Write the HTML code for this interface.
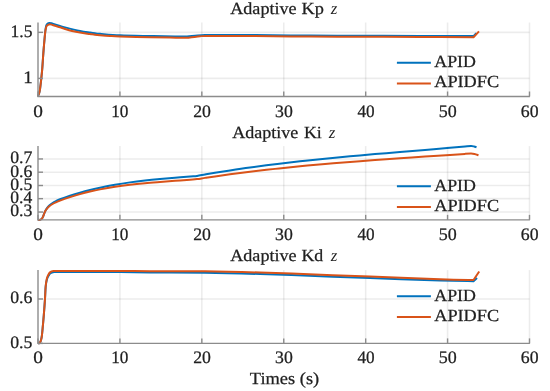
<!DOCTYPE html>
<html><head><meta charset="utf-8"><title>Adaptive gains</title>
<style>html,body{margin:0;padding:0;background:#fff;width:550px;height:391px;overflow:hidden}svg{display:block;text-rendering:geometricPrecision}</style>
</head><body>
<svg width="550" height="391" viewBox="0 0 550 391" font-family="'Liberation Serif', serif">
<rect width="550" height="391" fill="#fff"/>
<g stroke="#000" stroke-opacity="0.074" stroke-width="1.6"><line x1="119.92" y1="22.5" x2="119.92" y2="96.5"/><line x1="201.83" y1="22.5" x2="201.83" y2="96.5"/><line x1="283.75" y1="22.5" x2="283.75" y2="96.5"/><line x1="365.67" y1="22.5" x2="365.67" y2="96.5"/><line x1="447.58" y1="22.5" x2="447.58" y2="96.5"/><line x1="529.50" y1="22.5" x2="529.50" y2="96.5"/><line x1="38.0" y1="32.35" x2="529.5" y2="32.35"/><line x1="38.0" y1="78.4" x2="529.5" y2="78.4"/></g>
<path fill="none" stroke="#0072BD" stroke-width="2" stroke-linejoin="round" d="M37.90,96.30C38.13,95.70 38.93,93.98 39.30,92.70C39.67,91.42 39.77,90.98 40.10,88.60C40.43,86.22 40.93,81.80 41.30,78.40C41.67,75.00 42.02,71.60 42.30,68.20C42.58,64.80 42.77,61.27 43.00,58.00C43.23,54.73 43.43,51.87 43.70,48.60C43.97,45.33 44.35,41.13 44.60,38.40C44.85,35.67 45.02,33.90 45.20,32.20C45.38,30.50 45.50,29.37 45.70,28.20C45.90,27.03 46.07,25.98 46.40,25.20C46.73,24.42 47.22,23.88 47.70,23.50C48.18,23.12 48.67,22.93 49.30,22.90C49.93,22.87 50.55,23.05 51.50,23.30C52.45,23.55 53.58,23.97 55.00,24.40C56.42,24.83 58.33,25.40 60.00,25.90C61.67,26.40 61.67,26.55 65.00,27.40C68.33,28.25 75.83,30.13 80.00,31.00C84.17,31.87 87.50,32.22 90.00,32.60C92.50,32.98 93.33,33.10 95.00,33.30C96.67,33.50 95.83,33.47 100.00,33.80C104.17,34.13 111.67,34.93 120.00,35.30C128.33,35.67 140.83,35.82 150.00,36.00C159.17,36.18 168.83,36.33 175.00,36.40C181.17,36.47 183.67,36.52 187.00,36.40C190.33,36.28 192.00,35.93 195.00,35.70C198.00,35.47 200.83,35.13 205.00,35.00C209.17,34.87 211.67,34.88 220.00,34.90C228.33,34.92 240.00,34.98 255.00,35.10C270.00,35.22 291.67,35.48 310.00,35.60C328.33,35.72 346.67,35.73 365.00,35.80C383.33,35.87 401.92,35.95 420.00,36.00C438.08,36.05 464.58,36.08 473.50,36.10L476.30,33.20"/>
<path fill="none" stroke="#D95319" stroke-width="2" stroke-linejoin="round" d="M37.90,96.30C38.13,95.70 38.93,93.98 39.30,92.70C39.67,91.42 39.77,90.98 40.10,88.60C40.43,86.22 40.93,81.80 41.30,78.40C41.67,75.00 42.02,71.60 42.30,68.20C42.58,64.80 42.77,61.27 43.00,58.00C43.23,54.73 43.43,51.87 43.70,48.60C43.97,45.33 44.35,41.10 44.60,38.40C44.85,35.70 45.01,33.97 45.20,32.40C45.39,30.83 45.53,30.00 45.75,29.00C45.97,28.00 46.17,27.07 46.50,26.40C46.83,25.73 47.23,25.33 47.70,25.00C48.17,24.67 48.67,24.47 49.30,24.40C49.93,24.33 50.55,24.37 51.50,24.60C52.45,24.83 53.58,25.35 55.00,25.80C56.42,26.25 58.33,26.77 60.00,27.30C61.67,27.83 63.00,28.38 65.00,29.00C67.00,29.62 69.50,30.40 72.00,31.00C74.50,31.60 77.00,32.10 80.00,32.60C83.00,33.10 87.50,33.65 90.00,34.00C92.50,34.35 93.33,34.50 95.00,34.70C96.67,34.90 97.50,34.98 100.00,35.20C102.50,35.42 106.67,35.78 110.00,36.00C113.33,36.22 113.33,36.28 120.00,36.50C126.67,36.72 141.67,37.12 150.00,37.30C158.33,37.48 164.17,37.52 170.00,37.60C175.83,37.68 181.67,37.82 185.00,37.80C188.33,37.78 187.50,37.75 190.00,37.50C192.50,37.25 197.17,36.57 200.00,36.30C202.83,36.03 197.83,35.95 207.00,35.90C216.17,35.85 237.83,35.88 255.00,36.00C272.17,36.12 291.67,36.47 310.00,36.60C328.33,36.73 346.67,36.73 365.00,36.80C383.33,36.87 401.92,36.93 420.00,37.00C438.08,37.07 464.58,37.17 473.50,37.20L479.00,31.40"/>
<g stroke="#8c8c8c" stroke-width="1.4"><line x1="38.0" y1="22.5" x2="38.0" y2="96.5"/><line x1="37.4" y1="96.5" x2="529.9" y2="96.5"/><line x1="38.00" y1="96.5" x2="38.00" y2="91.5"/><line x1="119.92" y1="96.5" x2="119.92" y2="91.5"/><line x1="201.83" y1="96.5" x2="201.83" y2="91.5"/><line x1="283.75" y1="96.5" x2="283.75" y2="91.5"/><line x1="365.67" y1="96.5" x2="365.67" y2="91.5"/><line x1="447.58" y1="96.5" x2="447.58" y2="91.5"/><line x1="529.50" y1="96.5" x2="529.50" y2="91.5"/><line x1="38.0" y1="32.35" x2="43.0" y2="32.35"/><line x1="38.0" y1="78.4" x2="43.0" y2="78.4"/></g>
<line x1="396.9" y1="62.7" x2="430.9" y2="62.7" stroke="#0072BD" stroke-width="2"/>
<line x1="396.9" y1="83.45" x2="430.9" y2="83.45" stroke="#D95319" stroke-width="2"/>
<g stroke="#000" stroke-opacity="0.074" stroke-width="1.6"><line x1="119.92" y1="146.1" x2="119.92" y2="219.85"/><line x1="201.83" y1="146.1" x2="201.83" y2="219.85"/><line x1="283.75" y1="146.1" x2="283.75" y2="219.85"/><line x1="365.67" y1="146.1" x2="365.67" y2="219.85"/><line x1="447.58" y1="146.1" x2="447.58" y2="219.85"/><line x1="529.50" y1="146.1" x2="529.50" y2="219.85"/><line x1="38.0" y1="158.95" x2="529.5" y2="158.95"/><line x1="38.0" y1="172.2" x2="529.5" y2="172.2"/><line x1="38.0" y1="185.5" x2="529.5" y2="185.5"/><line x1="38.0" y1="198.65" x2="529.5" y2="198.65"/><line x1="38.0" y1="212.05" x2="529.5" y2="212.05"/></g>
<path fill="none" stroke="#0072BD" stroke-width="2" stroke-linejoin="round" d="M37.90,219.40C38.13,219.48 38.62,220.03 39.30,219.90C39.98,219.77 41.33,219.25 42.00,218.60C42.67,217.95 42.92,216.88 43.30,216.00C43.68,215.12 43.97,214.13 44.30,213.30C44.63,212.47 44.85,211.85 45.30,211.00C45.75,210.15 46.33,209.10 47.00,208.20C47.67,207.30 48.37,206.47 49.30,205.60C50.23,204.73 51.48,203.75 52.60,203.00C53.72,202.25 54.77,201.72 56.00,201.10C57.23,200.48 57.67,200.16 60.00,199.27C62.33,198.38 66.67,196.86 70.00,195.76C73.33,194.66 76.67,193.65 80.00,192.69C83.33,191.73 86.67,190.83 90.00,189.99C93.33,189.15 95.83,188.53 100.00,187.65C104.17,186.77 110.00,185.60 115.00,184.72C120.00,183.84 125.00,183.08 130.00,182.38C135.00,181.68 140.00,181.08 145.00,180.51C150.00,179.94 155.00,179.45 160.00,178.98C165.00,178.51 170.00,178.09 175.00,177.67C180.00,177.25 186.33,176.76 190.00,176.47C193.67,176.18 194.50,176.25 197.00,175.92C199.50,175.59 202.00,175.03 205.00,174.51C208.00,173.99 210.83,173.49 215.00,172.81C219.17,172.13 224.17,171.30 230.00,170.41C235.83,169.52 242.50,168.51 250.00,167.48C257.50,166.45 266.67,165.24 275.00,164.21C283.33,163.18 291.67,162.22 300.00,161.30C308.33,160.38 316.67,159.52 325.00,158.69C333.33,157.86 341.67,157.08 350.00,156.32C358.33,155.56 366.67,154.84 375.00,154.12C383.33,153.40 391.67,152.71 400.00,152.01C408.33,151.31 416.67,150.64 425.00,149.94C433.33,149.24 443.33,148.40 450.00,147.83C456.67,147.26 461.50,146.82 465.00,146.53C468.50,146.24 469.50,146.12 471.00,146.10C472.50,146.08 473.08,146.22 474.00,146.40C474.92,146.58 476.08,147.07 476.50,147.20"/>
<path fill="none" stroke="#D95319" stroke-width="2" stroke-linejoin="round" d="M37.90,219.40C38.13,219.48 38.62,220.03 39.30,219.90C39.98,219.77 41.33,219.25 42.00,218.60C42.67,217.95 42.92,216.88 43.30,216.00C43.68,215.12 43.97,214.13 44.30,213.30C44.63,212.47 44.85,211.78 45.30,211.00C45.75,210.22 46.33,209.38 47.00,208.60C47.67,207.82 48.37,207.07 49.30,206.30C50.23,205.53 51.48,204.67 52.60,204.00C53.72,203.33 54.77,202.86 56.00,202.30C57.23,201.74 57.67,201.51 60.00,200.65C62.33,199.79 66.67,198.23 70.00,197.14C73.33,196.05 76.67,195.05 80.00,194.12C83.33,193.19 86.67,192.34 90.00,191.55C93.33,190.76 95.83,190.18 100.00,189.38C104.17,188.58 110.00,187.54 115.00,186.77C120.00,186.00 125.00,185.36 130.00,184.77C135.00,184.18 140.00,183.69 145.00,183.23C150.00,182.76 155.00,182.38 160.00,181.98C165.00,181.58 170.00,181.24 175.00,180.86C180.00,180.48 186.33,179.99 190.00,179.70C193.67,179.41 194.50,179.41 197.00,179.10C199.50,178.79 202.00,178.32 205.00,177.87C208.00,177.42 210.83,176.99 215.00,176.40C219.17,175.81 224.17,175.09 230.00,174.31C235.83,173.53 242.50,172.66 250.00,171.75C257.50,170.84 266.67,169.78 275.00,168.88C283.33,167.97 291.67,167.13 300.00,166.32C308.33,165.51 316.67,164.75 325.00,164.02C333.33,163.29 341.67,162.61 350.00,161.95C358.33,161.29 366.67,160.66 375.00,160.05C383.33,159.44 391.67,158.85 400.00,158.27C408.33,157.69 416.67,157.12 425.00,156.56C433.33,156.00 443.33,155.34 450.00,154.89C456.67,154.44 461.50,154.09 465.00,153.88C468.50,153.66 469.42,153.60 471.00,153.60C472.58,153.60 473.25,153.63 474.50,153.90C475.75,154.17 477.83,154.98 478.50,155.20"/>
<g stroke="#8c8c8c" stroke-width="1.4"><line x1="38.0" y1="146.1" x2="38.0" y2="219.85"/><line x1="37.4" y1="219.85" x2="529.9" y2="219.85"/><line x1="38.00" y1="219.85" x2="38.00" y2="214.85"/><line x1="119.92" y1="219.85" x2="119.92" y2="214.85"/><line x1="201.83" y1="219.85" x2="201.83" y2="214.85"/><line x1="283.75" y1="219.85" x2="283.75" y2="214.85"/><line x1="365.67" y1="219.85" x2="365.67" y2="214.85"/><line x1="447.58" y1="219.85" x2="447.58" y2="214.85"/><line x1="529.50" y1="219.85" x2="529.50" y2="214.85"/><line x1="38.0" y1="158.95" x2="43.0" y2="158.95"/><line x1="38.0" y1="172.2" x2="43.0" y2="172.2"/><line x1="38.0" y1="185.5" x2="43.0" y2="185.5"/><line x1="38.0" y1="198.65" x2="43.0" y2="198.65"/><line x1="38.0" y1="212.05" x2="43.0" y2="212.05"/></g>
<line x1="396.9" y1="186.2" x2="430.9" y2="186.2" stroke="#0072BD" stroke-width="2"/>
<line x1="396.9" y1="206.95" x2="430.9" y2="206.95" stroke="#D95319" stroke-width="2"/>
<g stroke="#000" stroke-opacity="0.074" stroke-width="1.6"><line x1="119.92" y1="270.1" x2="119.92" y2="343.4"/><line x1="201.83" y1="270.1" x2="201.83" y2="343.4"/><line x1="283.75" y1="270.1" x2="283.75" y2="343.4"/><line x1="365.67" y1="270.1" x2="365.67" y2="343.4"/><line x1="447.58" y1="270.1" x2="447.58" y2="343.4"/><line x1="529.50" y1="270.1" x2="529.50" y2="343.4"/><line x1="38.0" y1="299.0" x2="529.5" y2="299.0"/></g>
<path fill="none" stroke="#0072BD" stroke-width="2" stroke-linejoin="round" d="M38.20,343.00C38.35,343.05 38.75,343.47 39.10,343.30C39.45,343.13 39.97,342.60 40.30,342.00C40.63,341.40 40.83,340.77 41.10,339.70C41.37,338.63 41.60,337.98 41.90,335.60C42.20,333.22 42.58,328.80 42.90,325.40C43.22,322.00 43.53,318.43 43.80,315.20C44.07,311.97 44.30,308.75 44.50,306.00C44.70,303.25 44.80,301.97 45.00,298.70C45.20,295.43 45.38,289.58 45.70,286.40C46.02,283.22 46.43,281.37 46.90,279.60C47.37,277.83 47.90,276.87 48.50,275.80C49.10,274.73 49.58,273.82 50.50,273.20C51.42,272.58 52.42,272.32 54.00,272.10C55.58,271.88 57.33,271.93 60.00,271.90C62.67,271.87 60.00,271.87 70.00,271.90C80.00,271.93 106.67,272.00 120.00,272.10C133.33,272.20 135.83,272.40 150.00,272.50C164.17,272.60 186.67,272.45 205.00,272.70C223.33,272.95 241.67,273.45 260.00,274.00C278.33,274.55 296.67,275.33 315.00,276.00C333.33,276.67 349.17,277.25 370.00,278.00C390.83,278.75 422.75,279.97 440.00,280.50C457.25,281.03 467.92,281.08 473.50,281.20L477.00,278.00"/>
<path fill="none" stroke="#D95319" stroke-width="2" stroke-linejoin="round" d="M38.20,343.00C38.35,343.05 38.75,343.47 39.10,343.30C39.45,343.13 39.97,342.60 40.30,342.00C40.63,341.40 40.83,340.77 41.10,339.70C41.37,338.63 41.60,337.98 41.90,335.60C42.20,333.22 42.58,328.80 42.90,325.40C43.22,322.00 43.53,318.43 43.80,315.20C44.07,311.97 44.30,308.75 44.50,306.00C44.70,303.25 44.80,301.97 45.00,298.70C45.20,295.43 45.42,289.63 45.70,286.40C45.98,283.17 46.30,281.17 46.70,279.30C47.10,277.43 47.50,276.40 48.10,275.20C48.70,274.00 49.42,272.78 50.30,272.10C51.18,271.42 51.78,271.30 53.40,271.10C55.02,270.90 57.23,270.93 60.00,270.90C62.77,270.87 60.00,270.88 70.00,270.90C80.00,270.92 106.67,270.95 120.00,271.00C133.33,271.05 135.83,271.15 150.00,271.20C164.17,271.25 186.67,271.08 205.00,271.30C223.33,271.52 241.67,271.97 260.00,272.50C278.33,273.03 296.67,273.83 315.00,274.50C333.33,275.17 349.17,275.72 370.00,276.50C390.83,277.28 422.75,278.62 440.00,279.20C457.25,279.78 467.92,279.87 473.50,280.00L479.20,271.50"/>
<g stroke="#8c8c8c" stroke-width="1.4"><line x1="38.0" y1="270.1" x2="38.0" y2="343.4"/><line x1="37.4" y1="343.4" x2="529.9" y2="343.4"/><line x1="38.00" y1="343.4" x2="38.00" y2="338.4"/><line x1="119.92" y1="343.4" x2="119.92" y2="338.4"/><line x1="201.83" y1="343.4" x2="201.83" y2="338.4"/><line x1="283.75" y1="343.4" x2="283.75" y2="338.4"/><line x1="365.67" y1="343.4" x2="365.67" y2="338.4"/><line x1="447.58" y1="343.4" x2="447.58" y2="338.4"/><line x1="529.50" y1="343.4" x2="529.50" y2="338.4"/><line x1="38.0" y1="299.0" x2="43.0" y2="299.0"/><line x1="38.0" y1="343.4" x2="43.0" y2="343.4"/></g>
<line x1="396.9" y1="296.3" x2="430.9" y2="296.3" stroke="#0072BD" stroke-width="2"/>
<line x1="396.9" y1="317.05" x2="430.9" y2="317.05" stroke="#D95319" stroke-width="2"/>
<g font-size="17" fill="#202020" stroke="#202020" stroke-width="0.25"><text x="230.23" y="14.00" textLength="66.38" lengthAdjust="spacingAndGlyphs">Adaptive</text>
<text x="301.46" y="14.00" textLength="22.38" lengthAdjust="spacingAndGlyphs">Kp</text>
<text x="330.75" y="14.00" textLength="6.62" lengthAdjust="spacingAndGlyphs" font-style="italic" stroke-width="0">z</text>
<text x="33.37" y="116.50" font-size="17.5" textLength="9.66" lengthAdjust="spacingAndGlyphs">0</text>
<text x="111.14" y="116.50" font-size="17.5" textLength="17.21" lengthAdjust="spacingAndGlyphs">10</text>
<text x="193.17" y="116.50" font-size="17.5" textLength="17.72" lengthAdjust="spacingAndGlyphs">20</text>
<text x="275.09" y="116.50" font-size="17.5" textLength="17.72" lengthAdjust="spacingAndGlyphs">30</text>
<text x="357.52" y="116.50" font-size="17.5" textLength="17.18" lengthAdjust="spacingAndGlyphs">40</text>
<text x="438.65" y="116.50" font-size="17.5" textLength="18.00" lengthAdjust="spacingAndGlyphs">50</text>
<text x="520.84" y="116.50" font-size="17.5" textLength="17.72" lengthAdjust="spacingAndGlyphs">60</text>
<text x="10.50" y="36.75" font-size="17.5" textLength="21.93" lengthAdjust="spacingAndGlyphs">1.5</text>
<text x="23.37" y="82.80" font-size="17.5" textLength="9.52" lengthAdjust="spacingAndGlyphs">1</text>
<text x="434.24" y="67.00" textLength="41.67" lengthAdjust="spacingAndGlyphs">APID</text>
<text x="434.23" y="87.30" textLength="64.91" lengthAdjust="spacingAndGlyphs">APIDFC</text>
<text x="232.23" y="137.80" textLength="66.18" lengthAdjust="spacingAndGlyphs">Adaptive</text>
<text x="303.98" y="137.80" textLength="17.78" lengthAdjust="spacingAndGlyphs">Ki</text>
<text x="328.75" y="137.80" textLength="6.62" lengthAdjust="spacingAndGlyphs" font-style="italic" stroke-width="0">z</text>
<text x="33.37" y="239.85" font-size="17.5" textLength="9.66" lengthAdjust="spacingAndGlyphs">0</text>
<text x="111.14" y="239.85" font-size="17.5" textLength="17.21" lengthAdjust="spacingAndGlyphs">10</text>
<text x="193.17" y="239.85" font-size="17.5" textLength="17.72" lengthAdjust="spacingAndGlyphs">20</text>
<text x="275.09" y="239.85" font-size="17.5" textLength="17.72" lengthAdjust="spacingAndGlyphs">30</text>
<text x="357.52" y="239.85" font-size="17.5" textLength="17.18" lengthAdjust="spacingAndGlyphs">40</text>
<text x="438.65" y="239.85" font-size="17.5" textLength="18.00" lengthAdjust="spacingAndGlyphs">50</text>
<text x="520.84" y="239.85" font-size="17.5" textLength="17.72" lengthAdjust="spacingAndGlyphs">60</text>
<text x="10.24" y="163.35" font-size="17.5" textLength="22.20" lengthAdjust="spacingAndGlyphs">0.7</text>
<text x="10.24" y="176.60" font-size="17.5" textLength="22.20" lengthAdjust="spacingAndGlyphs">0.6</text>
<text x="10.24" y="189.90" font-size="17.5" textLength="22.20" lengthAdjust="spacingAndGlyphs">0.5</text>
<text x="10.25" y="203.05" font-size="17.5" textLength="21.93" lengthAdjust="spacingAndGlyphs">0.4</text>
<text x="10.24" y="216.45" font-size="17.5" textLength="22.20" lengthAdjust="spacingAndGlyphs">0.3</text>
<text x="434.24" y="190.50" textLength="41.67" lengthAdjust="spacingAndGlyphs">APID</text>
<text x="434.23" y="210.80" textLength="64.91" lengthAdjust="spacingAndGlyphs">APIDFC</text>
<text x="230.23" y="261.30" textLength="66.38" lengthAdjust="spacingAndGlyphs">Adaptive</text>
<text x="301.48" y="261.30" textLength="21.82" lengthAdjust="spacingAndGlyphs">Kd</text>
<text x="330.75" y="261.30" textLength="6.62" lengthAdjust="spacingAndGlyphs" font-style="italic" stroke-width="0">z</text>
<text x="33.37" y="363.40" font-size="17.5" textLength="9.66" lengthAdjust="spacingAndGlyphs">0</text>
<text x="111.14" y="363.40" font-size="17.5" textLength="17.21" lengthAdjust="spacingAndGlyphs">10</text>
<text x="193.17" y="363.40" font-size="17.5" textLength="17.72" lengthAdjust="spacingAndGlyphs">20</text>
<text x="275.09" y="363.40" font-size="17.5" textLength="17.72" lengthAdjust="spacingAndGlyphs">30</text>
<text x="357.52" y="363.40" font-size="17.5" textLength="17.18" lengthAdjust="spacingAndGlyphs">40</text>
<text x="438.65" y="363.40" font-size="17.5" textLength="18.00" lengthAdjust="spacingAndGlyphs">50</text>
<text x="520.84" y="363.40" font-size="17.5" textLength="17.72" lengthAdjust="spacingAndGlyphs">60</text>
<text x="10.24" y="303.40" font-size="17.5" textLength="22.20" lengthAdjust="spacingAndGlyphs">0.6</text>
<text x="10.24" y="347.80" font-size="17.5" textLength="22.20" lengthAdjust="spacingAndGlyphs">0.5</text>
<text x="434.24" y="300.60" textLength="41.67" lengthAdjust="spacingAndGlyphs">APID</text>
<text x="434.23" y="320.90" textLength="64.91" lengthAdjust="spacingAndGlyphs">APIDFC</text>
<text x="249.83" y="384.10" textLength="69.38" lengthAdjust="spacingAndGlyphs">Times (s)</text></g>
</svg>
</body></html>
